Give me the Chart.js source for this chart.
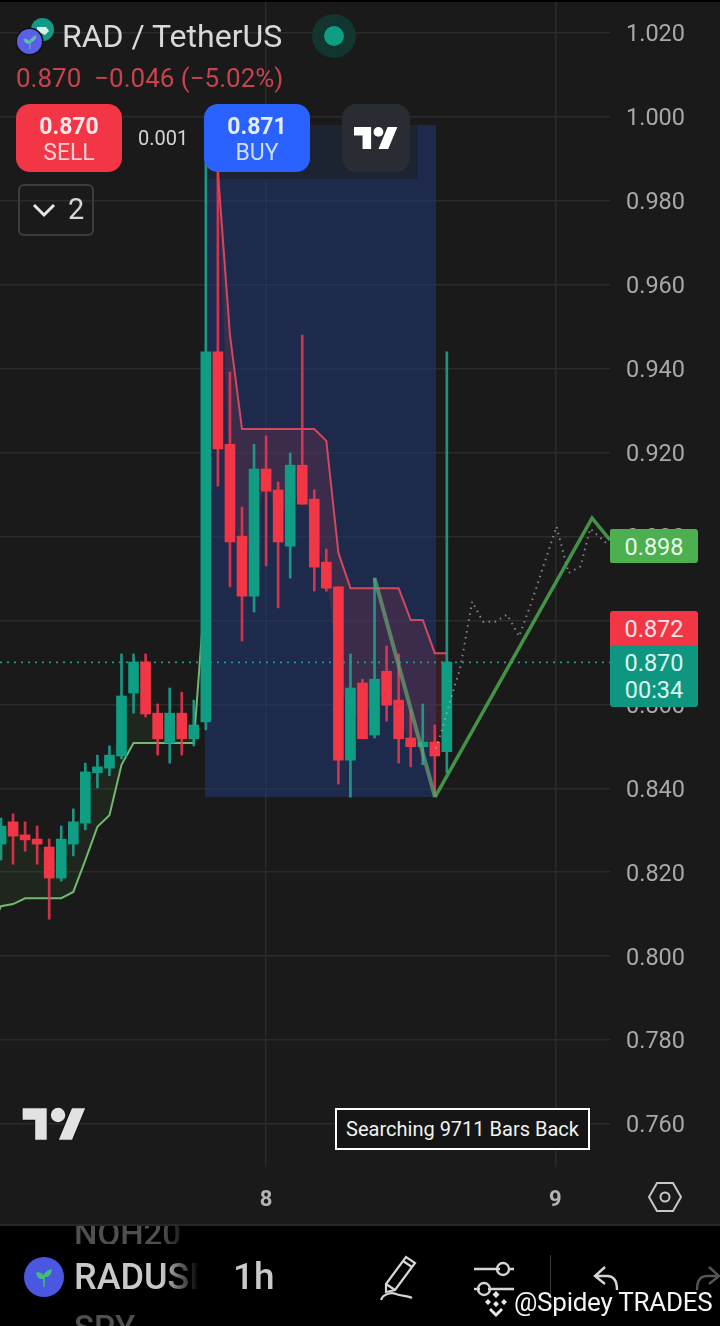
<!DOCTYPE html>
<html><head><meta charset="utf-8">
<script src="https://cdn.jsdelivr.net/npm/chart.js@4/dist/chart.umd.min.js"></script>
<style>
html,body{margin:0;padding:0;background:#000;width:720px;height:1326px;overflow:hidden;font-family:Roboto,sans-serif}
#wrap{position:relative;width:720px;height:1326px;overflow:hidden}
canvas{position:absolute;left:0;top:0}
.a{position:absolute;white-space:nowrap}
.c{text-align:center}
</style></head><body><div id="wrap">
<canvas id="c" width="720" height="1326"></canvas>
<div class="a" style="left:0;top:0;width:720px;height:2px;background:#000"></div>
<div class="a" style="left:0;top:1224px;width:720px;height:2px;background:#26272b"></div>

<div class="a" style="left:31px;top:18px;width:23px;height:23px;border-radius:50%;background:#129a87"></div>
<svg class="a" style="left:36px;top:24px" width="14" height="12"><path d="M1 3h9l3 4-4 4-8-4z" fill="#d8efe9"/></svg>
<div class="a" style="left:17px;top:29px;width:25px;height:25px;border-radius:50%;background:#5a5fe8;box-shadow:0 0 0 1.500px #111"></div>
<svg class="a" style="left:23px;top:34px" width="14" height="16"><path d="M7 15V8M7 9C6 6 4 5 1 5c0 3 3 5 6 4zM7 8c0-3 3-5 6-6 0 3-3 6-6 6z" fill="#5fbfa8" stroke="#5fbfa8"/></svg>
<div class="a" style="left:62px;top:18px;font-size:32px;line-height:36px;color:#d9d9d9">RAD / TetherUS</div>
<div class="a" style="left:312px;top:14px;width:44px;height:44px;border-radius:50%;background:#12352f"></div>
<div class="a" style="left:324px;top:26px;width:20px;height:20px;border-radius:50%;background:#0f9d84"></div>
<div class="a" style="left:16px;top:63px;font-size:26px;line-height:30px;color:#c9434f;white-space:pre">0.870  −0.046 (−5.02%)</div>

<div class="a" style="left:16px;top:104px;width:106px;height:68px;border-radius:14px;background:#f23645"></div>
<div class="a c" style="left:16px;top:113px;width:106px;font-size:23px;line-height:27px;font-weight:700;color:#fde7e9">0.870</div>
<div class="a c" style="left:16px;top:139px;width:106px;font-size:23px;line-height:27px;color:#fbd0d4">SELL</div>
<div class="a" style="left:138px;top:126px;font-size:20px;line-height:24px;color:#d5d5d5">0.001</div>
<div class="a" style="left:204px;top:104px;width:106px;height:68px;border-radius:14px;background:#2962ff"></div>
<div class="a c" style="left:204px;top:113px;width:106px;font-size:23px;line-height:27px;font-weight:700;color:#e6ecff">0.871</div>
<div class="a c" style="left:204px;top:139px;width:106px;font-size:23px;line-height:27px;color:#cfdcff">BUY</div>
<div class="a" style="left:342px;top:104px;width:68px;height:68px;border-radius:14px;background:#2a2c33"></div>
<svg class="a" style="left:354px;top:126px" width="44" height="24" viewBox="0 4 36 18"><path fill="#fff" d="M14 22H7V11H0V4h14v18zM28 22h-8l7.5-18h8L28 22z"/><circle fill="#fff" cx="20" cy="8" r="4"/></svg>
<div class="a" style="left:18px;top:184px;width:72px;height:48px;border:2px solid #3c3d41;border-radius:6px"></div>
<svg class="a" style="left:32px;top:202px" width="24" height="16"><path d="M2 3l10 10L22 3" fill="none" stroke="#e6e6e6" stroke-width="3"/></svg>
<div class="a" style="left:68px;top:193px;font-size:29px;line-height:32px;color:#d5d5d5">2</div>

<div class="a c" style="left:610px;top:529px;width:88px;height:34px;background:#4caf50;border-radius:2px 3px 3px 2px;color:#eafbe9;font-size:23.5px;line-height:36px">0.898</div>
<div class="a c" style="left:610px;top:611px;width:88px;height:36px;background:#f23645;border-radius:3px 3px 0 0;color:#fde3e5;font-size:23.5px;line-height:36px">0.872</div>
<div class="a" style="left:610px;top:645px;width:88px;height:62px;background:#0f9680;border-radius:3px"></div>
<div class="a c" style="left:610px;top:647px;width:88px;color:#dcf7f1;font-size:23.5px;line-height:32px">0.870</div>
<div class="a c" style="left:610px;top:674px;width:88px;color:#dcf7f1;font-size:23.5px;line-height:32px">00:34</div>

<svg class="a" style="left:20px;top:1106px" width="68" height="36" viewBox="-1 3 37.5 20"><path fill="#e2e2e2" stroke="#111" stroke-width=".6" d="M14 22H7V11H0V4h14v18zM28 22h-8l7.5-18h8L28 22z"/><circle fill="#e2e2e2" cx="20" cy="8" r="4"/></svg>
<div class="a c" style="left:335px;top:1108px;width:251px;height:38px;border:2px solid #fff;background:#151515;color:#f2f2f2;font-size:20px;line-height:38px">Searching 9711 Bars Back</div>
<svg class="a" style="left:648px;top:1180px" width="34" height="34"><path d="M9 3h16l8 14-8 14H9L1 17z" fill="none" stroke="#c8c8c8" stroke-width="2"/><circle cx="17" cy="17" r="4.500" fill="none" stroke="#c8c8c8" stroke-width="2"/></svg>

<div class="a" style="left:74px;top:1226px;width:118px;height:18px;overflow:hidden;-webkit-mask-image:linear-gradient(90deg,#000 75%,transparent)"><div style="margin-top:-12px;font-size:33px;line-height:40px;color:#4f4f4f;font-weight:500">NQH20</div></div>
<div class="a" style="left:24px;top:1257px;width:40px;height:40px;border-radius:50%;background:#4b57e0"></div>
<svg class="a" style="left:32px;top:1265px" width="24" height="24"><path d="M12 22v-10M12 13c-1-4-4-5-7-5 0 4 3 6 7 5zM12 11c1-4 4-5 7-6 0 4-3 7-7 6z" fill="#3fc17a" stroke="#3fc17a" stroke-width="1.5"/></svg>
<div class="a" style="left:74px;top:1254px;width:125px;overflow:hidden;font-size:36px;line-height:46px;font-weight:500;color:#c9c9c9;-webkit-mask-image:linear-gradient(90deg,#000 70%,transparent)">RADUSDT</div>
<div class="a" style="left:233px;top:1254px;font-size:37px;line-height:46px;font-weight:500;color:#c9c9c9">1h</div>
<div class="a" style="left:74px;top:1308px;height:18px;overflow:hidden;font-size:33px;line-height:40px;color:#4f4f4f;font-weight:500">SPY</div>
<svg class="a" style="left:378px;top:1254px" width="46" height="50"><path d="M8 30L28 3l9 6-20 27-9 2zM8 30l9 6M25 7l9 6" fill="none" stroke="#d5d5d5" stroke-width="2.2"/><path d="M3 46c2-6 10-8 15-6s12 2 16 4" fill="none" stroke="#d5d5d5" stroke-width="2.2"/></svg>
<svg class="a" style="left:472px;top:1258px" width="44" height="44"><path d="M2 11h26M36 11h6M2 31h6M16 31h26" stroke="#d5d5d5" stroke-width="2.4"/><circle cx="31" cy="11" r="6" fill="none" stroke="#d5d5d5" stroke-width="2.4"/><circle cx="12" cy="31" r="6" fill="none" stroke="#d5d5d5" stroke-width="2.4"/></svg>
<div class="a" style="left:550px;top:1255px;width:1px;height:46px;background:#3a3a3a"></div>
<svg class="a" style="left:592px;top:1264px" width="32" height="30"><path d="M13 3L3 12l10 8M3 12h12c7 0 10 5 10 14" fill="none" stroke="#d5d5d5" stroke-width="2.4"/></svg>
<svg class="a" style="left:690px;top:1264px" width="30" height="30"><path d="M19 3l10 9-10 8M29 12H17c-7 0-10 5-10 14" fill="none" stroke="#555" stroke-width="2.4"/></svg>
<svg class="a" style="left:480px;top:1284px" width="32" height="34"><path fill="#e8e8e8" d="M16 7l3.5 3.5L16 14l-3.500-3.500zM8 15l3 3-3 3-3-3zM24 15l3 3-3 3-3-3zM16 17l3 3-3 3-3-3zM16 33l-7-7 2-2 5 5 5-5 2 2z"/></svg>
<div class="a" style="left:514px;top:1286px;font-size:26px;line-height:32px;color:#f4f4f4;letter-spacing:-.25px">@Spidey TRADES</div>
</div>
<script>
const barIndex=[0,1,2,3,4,5,6,7,8,9,10,11,12,13,14,15,16,17,18,19,20,21,22,23,24,25,26,27,28,29,30,31,32,33,34,35,36,37];
const opens =[.8267,.8320,.8289,.8279,.8260,.8186,.8267,.8317,.8437,.8448,.8477,.8627,.8701,.8579,.8508,.8579,.8518,.8558,.9440,.9220,.9001,.8858,.9161,.9111,.8977,.9170,.9089,.8939,.8880,.8467,.8651,.8527,.8679,.8610,.8520,.8499,.8510,.8487];
const highs =[.8329,.8339,.8320,.8310,.8279,.8310,.8351,.8460,.8479,.8501,.8720,.8720,.8720,.8601,.8639,.8629,.8610,.9919,.9870,.9392,.9070,.9220,.9240,.9130,.9199,.9480,.9111,.8970,.8880,.8720,.8660,.8901,.8739,.8720,.8587,.8601,.8551,.9440];
const lows  =[.8229,.8219,.8250,.8219,.8088,.8179,.8239,.8301,.8401,.8430,.8470,.8579,.8570,.8479,.8460,.8479,.8501,.8539,.9120,.8880,.8751,.8820,.8930,.8830,.8901,.9077,.8870,.8870,.8410,.8379,.8518,.8520,.8560,.8460,.8451,.8456,.8384,.8437];
const closes=[.8310,.8286,.8277,.8267,.8186,.8279,.8320,.8439,.8451,.8479,.8620,.8701,.8577,.8518,.8579,.8518,.8551,.9440,.9209,.8987,.8858,.9161,.9108,.8987,.9170,.9077,.8927,.8877,.8467,.8639,.8518,.8660,.8598,.8518,.8499,.8510,.8477,.8701];

const upTrendX=[-1,0,1,2,3,4,5,6,7,8,9,10,11,12,13,14,15,16,17];
const upTrend =[.8053,.8119,.8124,.8138,.8138,.8138,.8138,.8153,.8229,.8308,.8336,.8456,.8508,.8508,.8508,.8508,.8508,.8508,.8896];
const upMid   =[.8277,.8289,.8303,.8284,.8274,.8224,.8234,.8293,.8379,.8444,.8465,.8548,.8663,.8639,.8548,.8544,.8548,.8534,.8896];
const downTrendX=[18,19,20,21,22,23,24,25,26,27,28,29,30,31,32,33,34,35,36,37];
const downTrend =[.9869,.9480,.9256,.9256,.9256,.9256,.9256,.9256,.9256,.9228,.8961,.8877,.8877,.8877,.8877,.8877,.8801,.8801,.8722,.8722];
const downMid   =[.9869,.9104,.8930,.9011,.9135,.9049,.9075,.9123,.9008,.8908,.8675,.8553,.8584,.8594,.8639,.8563,.8510,.8503,.8494,.8594];

const zoneX=[16.93,36.1], zoneTop=.9981, zoneBottom=.8379;
const headerBoxX=[17.1,34.6], headerBoxTop=.9981, headerBoxBottom=.9852;
const zigDownX=[31.0,36.02], zigDownY=[.8901,.8379];
const zigUpX=[36.02,49.05,50.54], zigUpY=[.8379,.9044,.8992];
const ghostX=[36.1,36.6,37,37.5,38.1,39.1,40.0,41.0,42.0,43.0,44.0,46.1,47.1,48.1,48.9,50.4];
const ghostY=[.8495,.8540,.8580,.8630,.8685,.8845,.8797,.8797,.8814,.8762,.8841,.9024,.8913,.8929,.9019,.8980];
const lastPrice=.870;
const yTicks=[1.02,1,.98,.96,.94,.92,.9,.88,.86,.84,.82,.8,.78,.76];
const yTickLabels=["1.020","1.000","0.980","0.960","0.940","0.920","0.900","0.880","0.860","0.840","0.820","0.800","0.780","0.760"];
const xTicks=[22,46], xTickLabels=["8","9"];
const xMin=-.083,xMax=50.54,yMin=.74975,yMax=1.02786;

const UP='#0f9d84',DOWN='#f23645',UP_WICK='rgba(28,165,143,.88)',DOWN_WICK='rgba(242,54,80,.85)';
const up=i=>closes[i]>=opens[i];
const bodyColors=barIndex.map(i=>up(i)?UP:DOWN);
const wickColors=barIndex.map(i=>up(i)?UP_WICK:DOWN_WICK);
const pts=(xs,ys)=>xs.map((x,i)=>({x,y:ys[i]}));
const flat=(xs,v)=>xs.map(x=>({x,y:v}));
const helper={type:'line',pointRadius:0,borderWidth:0};

new Chart(document.getElementById('c'),{
 data:{datasets:[
  {...helper,order:30,data:flat(zoneX,zoneTop),fill:'+1',backgroundColor:'rgba(32,58,124,.5)'},
  {...helper,order:31,data:flat(zoneX,zoneBottom)},
  {...helper,order:29,data:flat(headerBoxX,headerBoxTop),fill:'+1',backgroundColor:'#1d2431'},
  {...helper,order:29.5,data:flat(headerBoxX,headerBoxBottom)},
  {type:'line',order:20,data:pts(upTrendX,upTrend),borderColor:'#74b86f',borderWidth:2,pointRadius:0,fill:'+1',backgroundColor:'rgba(76,175,80,.085)'},
  {...helper,order:21,data:pts(upTrendX,upMid)},
  {type:'line',order:20,data:pts(downTrendX,downTrend),borderColor:'#d2485f',borderWidth:2,pointRadius:0,fill:'+1',backgroundColor:'rgba(242,54,69,.14)'},
  {...helper,order:21,data:pts(downTrendX,downMid)},
  {type:'line',order:19,data:flat([xMin,xMax],lastPrice),borderColor:'#1f9d8b',borderWidth:1.6,borderDash:[2,5],pointRadius:0},
  {type:'bar',order:11,grouped:false,barThickness:2,data:barIndex.map((x,i)=>({x,y:[lows[i],highs[i]]})),backgroundColor:wickColors},
  {type:'bar',order:10,grouped:false,barThickness:10,data:barIndex.map((x,i)=>({x,y:[opens[i],closes[i]]})),backgroundColor:bodyColors},
  {type:'line',order:6,data:pts(ghostX,ghostY),borderColor:'rgba(175,175,175,.72)',borderWidth:2,borderDash:[1.5,4.5],pointRadius:0},
  {type:'line',order:5,data:pts(zigDownX,zigDownY),borderColor:'rgba(105,160,115,.72)',borderWidth:4,pointRadius:0},
  {type:'line',order:4,data:pts(zigUpX,zigUpY),borderColor:'rgba(76,175,80,.82)',borderWidth:3.5,pointRadius:0}
 ]},
 options:{
  responsive:false,animation:false,devicePixelRatio:1,
  layout:{padding:0},
  plugins:{legend:{display:false},tooltip:{enabled:false}},
  scales:{
   x:{type:'linear',offset:false,min:xMin,max:xMax,
    afterBuildTicks:s=>{s.ticks=xTicks.map(value=>({value}))},
    afterFit:s=>{s.height=159;s.paddingLeft=0;s.paddingRight=0},
    grid:{offset:false,color:'#2b2b2b',lineWidth:1.5,drawTicks:false},border:{display:false},
    ticks:{autoSkip:false,maxRotation:0,padding:20,color:'#b4b4b4',font:{family:'Roboto',size:22,weight:'700'},
     callback:v=>xTickLabels[xTicks.indexOf(v)]}},
   y:{type:'linear',position:'right',min:yMin,max:yMax,
    afterBuildTicks:s=>{s.ticks=yTicks.map(value=>({value}))},
    afterFit:s=>{s.width=110;s.paddingTop=0;s.paddingBottom=0},
    grid:{color:'#2b2b2b',lineWidth:1.5,drawTicks:false},border:{display:false},
    ticks:{autoSkip:false,padding:16,crossAlign:'near',color:'#a8a8a8',font:{family:'Roboto',size:23.5},
     callback:v=>yTickLabels[yTicks.indexOf(v)]}}
  }
 },
 plugins:[{id:'bg',beforeDraw(c){
   const x=c.ctx;x.save();x.fillStyle='#1a1a1a';x.fillRect(0,0,720,1226);x.fillStyle='#000';x.fillRect(0,1226,720,100);x.restore();
   c.scales.y.getLabelItems().forEach(it=>{it.options.translation[1]+=2.5});
 }}]
});
</script></body></html>
